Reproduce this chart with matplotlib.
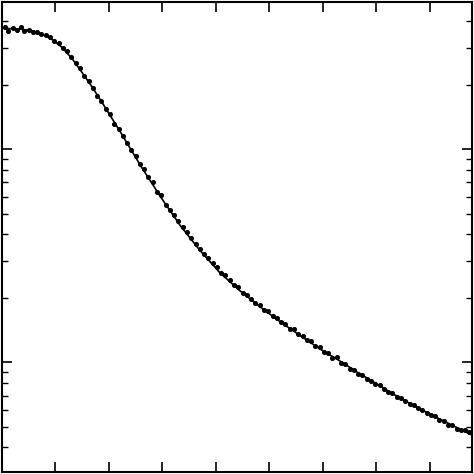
import matplotlib
matplotlib.use("Agg")
import matplotlib.pyplot as plt
from matplotlib.ticker import MultipleLocator, LogLocator, NullFormatter

curve_x = [0, 0.37, 0.56, 0.74, 0.93, 1.11, 1.30, 1.48, 1.67, 1.86, 2.23, 2.60, 2.97, 3.34, 3.71,
           4.08, 4.45, 4.82, 5.19, 5.57, 5.94, 6.31, 6.68, 7.05, 7.42, 7.79, 8.16, 8.79]
curve_y = [37.0, 36.6, 36.0, 34.8, 32.9, 30.3, 26.9, 23.3, 19.9, 16.8, 11.9, 8.33, 5.97, 4.37,
           3.34, 2.63, 2.17, 1.83, 1.56, 1.34, 1.16, 1.02, 0.889, 0.782, 0.686, 0.610, 0.547, 0.456]

dot_x = [0.05, 0.12, 0.2, 0.28, 0.35, 0.42, 0.5, 0.58, 0.66, 0.74, 0.82, 0.9, 0.98, 1.06, 1.14,
         1.22, 1.3, 1.38, 1.46, 1.54, 1.62, 1.7, 1.78, 1.86, 1.94, 2.02, 2.1, 2.18, 2.26, 2.34,
         2.42, 2.5, 2.58, 2.66, 2.74, 2.82, 2.9, 2.98, 3.06, 3.14, 3.22, 3.3, 3.38, 3.46, 3.54,
         3.62, 3.7, 3.78, 3.86, 3.94, 4.02, 4.1, 4.18, 4.26, 4.34, 4.42, 4.5, 4.58, 4.66, 4.74,
         4.82, 4.9, 4.98, 5.06, 5.14, 5.22, 5.3, 5.38, 5.46, 5.54, 5.62, 5.7, 5.78, 5.86, 5.94,
         6.02, 6.1, 6.18, 6.26, 6.34, 6.42, 6.5, 6.58, 6.66, 6.74, 6.82, 6.9, 6.98, 7.06, 7.14,
         7.22, 7.3, 7.38, 7.46, 7.54, 7.62, 7.7, 7.78, 7.86, 7.94, 8.02, 8.1, 8.18, 8.26, 8.34,
         8.42, 8.5, 8.58, 8.66, 8.74]
dot_y = [37.5, 36.0, 37.2, 36.3, 37.4, 36.1, 36.4, 35.6, 35.5, 34.6, 34.4, 33.5, 32.2, 31.4, 30.0,
         28.9, 27.0, 25.4, 24.0, 22.1, 20.9, 19.5, 17.8, 16.9, 15.4, 14.6, 13.1, 12.4, 11.5, 10.7,
         9.9, 9.3, 8.5, 8.1, 7.4, 7.0, 6.3, 6.1, 5.5, 5.2, 4.9, 4.6, 4.3, 4.1, 3.85,
         3.6, 3.42, 3.22, 3.1, 2.92, 2.8, 2.62, 2.56, 2.44, 2.31, 2.25, 2.13, 2.07, 1.99, 1.9,
         1.86, 1.77, 1.74, 1.66, 1.61, 1.55, 1.52, 1.44, 1.43, 1.36, 1.33, 1.27, 1.26, 1.19, 1.18,
         1.12, 1.11, 1.05, 1.06, 0.99, 0.98, 0.93, 0.92, 0.88, 0.87, 0.84, 0.82, 0.79, 0.78, 0.75,
         0.73, 0.72, 0.69, 0.68, 0.66, 0.64, 0.63, 0.61, 0.60, 0.58, 0.57, 0.56, 0.54, 0.53, 0.51,
         0.51, 0.49, 0.48, 0.48, 0.47]

fig = plt.figure(figsize=(4.74, 4.74), dpi=100)
ax = fig.add_axes([0.004, 0.004, 0.992, 0.992])
ax.plot(curve_x, curve_y, color="black", lw=1.2)
ax.scatter(dot_x, dot_y, s=7, color="black", zorder=3)
ax.set_yscale("log")
ax.set_xlim(0, 8.79)
ax.set_ylim(0.306, 49.2)
ax.xaxis.set_major_locator(MultipleLocator(1))
ax.yaxis.set_major_locator(LogLocator(base=10))
ax.yaxis.set_minor_locator(LogLocator(base=10, subs=range(2, 10)))
ax.tick_params(which="both", direction="in", top=True, right=True,
               labelbottom=False, labelleft=False)
ax.tick_params(which="major", length=7, width=1.2)
ax.tick_params(which="minor", length=4, width=1)
ax.yaxis.set_minor_formatter(NullFormatter())
for s in ax.spines.values():
    s.set_linewidth(1.5)
fig.savefig("out.png", dpi=100)
